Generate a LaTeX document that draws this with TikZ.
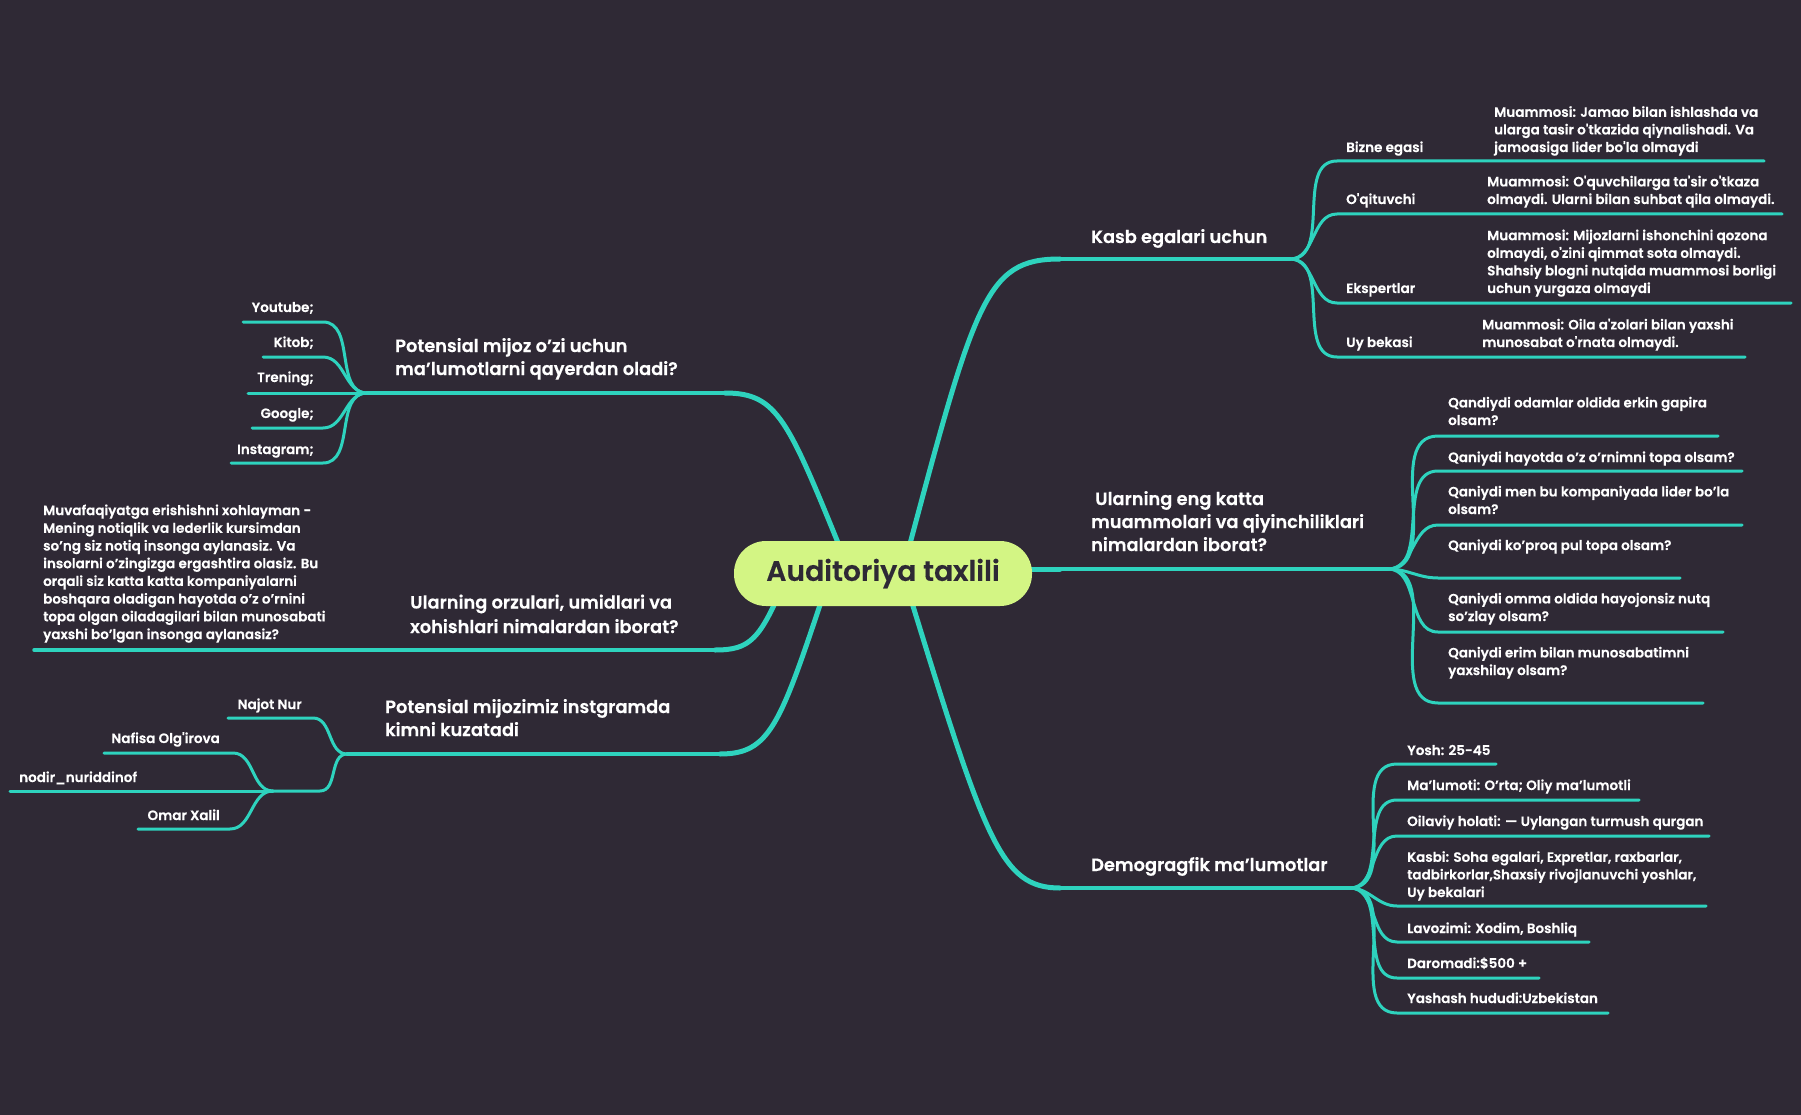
\documentclass[tikz,border=0pt]{standalone}
\usepackage{fontspec}
\IfFontExistsTF{Poppins SemiBold}{\newfontfamily\mfont{Poppins SemiBold}[Ligatures=TeXOff,FakeBold=0.4]}{\newfontfamily\mfont{Poppins}[Ligatures=TeXOff]}
\definecolor{bgc}{RGB}{47,41,53}
\definecolor{tealc}{RGB}{46,211,190}
\definecolor{limec}{RGB}{211,245,132}
\definecolor{darkt}{RGB}{46,41,53}
\tikzset{
  br/.style={draw=tealc, line width=3pt, line cap=round},
  ubr/.style={draw=tealc, line width=3.5pt, line cap=round},
  mbr/.style={draw=tealc, line width=5pt, line cap=round},
  sm/.style={text=white, font=\mfont\fontsize{13.5}{17.6}\selectfont, inner sep=0pt, anchor=base west, align=left},
  smr/.style={sm, anchor=base east, align=right},
  big/.style={text=white, font=\mfont\fontsize{17.8}{23}\selectfont, inner sep=0pt, anchor=base west, align=left},
  centre/.style={fill=limec, text=darkt, rounded corners=32pt, minimum width=298pt, minimum height=65pt, inner sep=0pt, font=\mfont\fontsize{28.2}{34}\selectfont}
}
\begin{document}
\begin{tikzpicture}[x=1pt,y=-1pt]
\fill[bgc] (0,0) rectangle (1801,1115);
\useasboundingbox (0,0) rectangle (1801,1115);

% ---------- Kasb egalari uchun ----------
\coordinate (k0) at (903,570);
\coordinate (kstart) at (1060,259);
\coordinate (kf) at (1290,259);
\draw[mbr] (k0) .. controls (975,300) and (985,259) .. (kstart);
\draw[ubr] (kstart) -- (kf);
\node[big] (kt) at (1091,243) {Kasb egalari uchun};
\foreach \n/\y/\e in {1/161/1764, 2/214/1782, 3/303/1791, 4/357/1745}{
  \coordinate (k\n s) at (1337,\y);
  \coordinate (k\n e) at (\e,\y);
  \draw[br] (kf) to[out=0,in=180] (k\n s) -- (k\n e);
}
\node[sm] (k1l) at (1346,152) {Bizne egasi};
\node[sm] (k1t) at (1494,152) {Muammosi: Jamao bilan ishlashda va\\ularga tasir o'tkazida qiynalishadi. Va\\jamoasiga lider bo'la olmaydi};
\node[sm] (k2l) at (1346,204) {O'qituvchi};
\node[sm] (k2t) at (1487,204) {Muammosi: O'quvchilarga ta'sir o'tkaza\\olmaydi. Ularni bilan suhbat qila olmaydi.};
\node[sm] (k3l) at (1346,293) {Ekspertlar};
\node[sm] (k3t) at (1487,293) {Muammosi: Mijozlarni ishonchini qozona\\olmaydi, o'zini qimmat sota olmaydi.\\Shahsiy blogni nutqida muammosi borligi\\uchun yurgaza olmaydi};
\node[sm] (k4l) at (1346,347) {Uy bekasi};
\node[sm] (k4t) at (1482,347) {Muammosi: Oila a'zolari bilan yaxshi\\munosabat o'rnata olmaydi.};

% ---------- Ularning eng katta muammolari ----------
\coordinate (e0) at (1000,569);
\coordinate (estart) at (1060,569);
\coordinate (ef) at (1388,569);
\draw[mbr] (e0) -- (estart);
\draw[ubr] (estart) -- (ef);
\node[big] (et) at (1091,551) {\hspace{4pt}Ularning eng katta\\muammolari va qiyinchiliklari\\nimalardan iborat?};
\foreach \n/\y/\e in {1/436/1718, 2/471/1742, 3/525/1742, 4/578/1680, 5/632/1723, 6/703/1703}{
  \coordinate (e\n s) at (1438,\y);
  \coordinate (e\n e) at (\e,\y);
  \draw[br] (ef) to[out=0,in=180] (e\n s) -- (e\n e);
}
\node[sm] (e1t) at (1448,425) {Qandiydi odamlar oldida erkin gapira\\olsam?};
\node[sm] (e2t) at (1448,462) {Qaniydi hayotda o’z o’rnimni topa olsam?};
\node[sm] (e3t) at (1448,514) {Qaniydi men bu kompaniyada lider bo’la\\olsam?};
\node[sm] (e4t) at (1448,550) {Qaniydi ko’proq pul topa olsam?};
\node[sm] (e5t) at (1448,621) {Qaniydi omma oldida hayojonsiz nutq\\so’zlay olsam?};
\node[sm] (e6t) at (1448,675) {Qaniydi erim bilan munosabatimni\\yaxshilay olsam?};

% ---------- Demogragfik ----------
\coordinate (d0) at (905,580);
\coordinate (dstart) at (1060,888);
\coordinate (df) at (1350,888);
\draw[mbr] (d0) .. controls (985,840) and (1000,888) .. (dstart);
\draw[ubr] (dstart) -- (df);
\node[big] (dt) at (1091,871) {Demogragfik ma’lumotlar};
\foreach \n/\y/\e in {1/764/1496, 2/800/1639, 3/836/1709, 4/906/1706, 5/942/1589, 6/978/1539, 7/1013/1608}{
  \coordinate (d\n s) at (1397,\y);
  \coordinate (d\n e) at (\e,\y);
  \draw[br] (df) to[out=0,in=180] (d\n s) -- (d\n e);
}
\node[sm] (d1t) at (1407,755) {Yosh: 25-45};
\node[sm] (d2t) at (1407,790) {Ma’lumoti: O’rta; Oliy ma’lumotli};
\node[sm] (d3t) at (1407,826) {Oilaviy holati: — Uylangan turmush qurgan};
\node[sm] (d4t) at (1407,897) {Kasbi: Soha egalari, Expretlar, raxbarlar,\\tadbirkorlar,Shaxsiy rivojlanuvchi yoshlar,\\Uy bekalari};
\node[sm] (d5t) at (1407,933) {Lavozimi: Xodim, Boshliq};
\node[sm] (d6t) at (1407,968) {Daromadi:\$500 +};
\node[sm] (d7t) at (1407,1003) {Yashash hududi:Uzbekistan};

% ---------- Potensial mijoz o'zi uchun ----------
\coordinate (p0) at (845,560);
\coordinate (pstart) at (725,393);
\coordinate (pf) at (367,393);
\draw[mbr] (p0) .. controls (788,420) and (778,393) .. (pstart);
\draw[ubr] (pstart) -- (pf);
\node[big] (pt) at (395,375) {Potensial mijoz o’zi uchun\\ma’lumotlarni qayerdan oladi?};
\foreach \n/\y/\s in {1/322/243, 2/357/263, 3/393/248, 4/428/252, 5/463/231}{
  \coordinate (p\n e) at (323,\y);
  \coordinate (p\n s) at (\s,\y);
  \draw[br] (pf) to[out=180,in=0] (p\n e) -- (p\n s);
}
\node[smr] (p1t) at (314,312) {Youtube;};
\node[smr] (p2t) at (314,347) {Kitob;};
\node[smr] (p3t) at (314,382) {Trening;};
\node[smr] (p4t) at (314,418) {Google;};
\node[smr] (p5t) at (314,454) {Instagram;};

% ---------- Ularning orzulari ----------
\coordinate (o0) at (785,580);
\coordinate (ostart) at (715,650);
\coordinate (oend) at (34,650);
\draw[mbr] (o0) .. controls (760,640) and (750,650) .. (ostart);
\draw[ubr] (ostart) -- (oend);
\node[big, font=\mfont\fontsize{17.8}{24.5}\selectfont] (ot) at (410,633) {Ularning orzulari, umidlari va\\xohishlari nimalardan iborat?};
\node[sm, font=\mfont\fontsize{13.5}{17.7}\selectfont] (o1t) at (43,639) {Muvafaqiyatga erishishni xohlayman -\\Mening notiqlik va lederlik kursimdan\\so’ng siz notiq insonga aylanasiz. Va\\insolarni o’zingizga ergashtira olasiz. Bu\\orqali siz katta katta kompaniyalarni\\boshqara oladigan hayotda o’z o’rnini\\topa olgan oiladagilari bilan munosabati\\yaxshi bo’lgan insonga aylanasiz?};

% ---------- Potensial mijozimiz instgramda ----------
\coordinate (i0) at (825,590);
\coordinate (istart) at (720,754);
\coordinate (if) at (347,754);
\draw[mbr] (i0) .. controls (780,725) and (770,754) .. (istart);
\draw[ubr] (istart) -- (if);
\node[big] (it) at (385,736) {Potensial mijozimiz instgramda\\kimni kuzatadi};
\coordinate (nj1) at (313,718);
\coordinate (nj2) at (228,718);
\coordinate (sub1) at (320,791);
\coordinate (sf) at (273,791);
\coordinate (na1) at (233,753);
\coordinate (na2) at (104,753);
\coordinate (nd2) at (10,791);
\coordinate (om1) at (230,829);
\coordinate (om2) at (138,829);
\draw[br] (if) to[out=180,in=0] (nj1) -- (nj2);
\draw[br] (if) to[out=180,in=0] (sub1) -- (sf);
\draw[br] (sf) to[out=180,in=0] (na1) -- (na2);
\draw[br] (sf) -- (nd2);
\draw[br] (sf) to[out=180,in=0] (om1) -- (om2);
\node[smr] (njt) at (302,709) {Najot Nur};
\node[smr] (nat) at (220,743) {Nafisa Olg'irova};
\node[sm] (ndt) at (19,782) {nodir\_nuriddinof};
\node[smr] (omt) at (220,820) {Omar Xalil};

% ---------- centre ----------
\node[centre] (c) at (883,573.5) {Auditoriya taxlili};
\end{tikzpicture}
\end{document}
